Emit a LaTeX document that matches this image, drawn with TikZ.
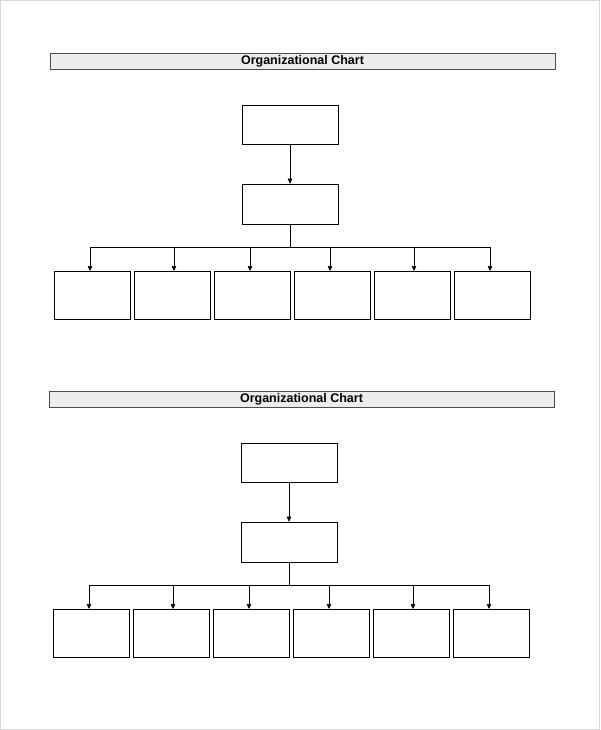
\documentclass[tikz,border=0pt]{standalone}
\usepackage{fontspec}
\setmainfont{Liberation Sans}
\usetikzlibrary{arrows.meta}
\begin{document}
\begin{tikzpicture}[x=1pt,y=-1pt,
  tbar/.style={draw=black!70,line width=0.6pt,fill=black!7,minimum width=505pt,minimum height=16pt,inner sep=0pt,font=\bfseries\fontsize{12.5}{14}\selectfont},
  conn/.style={line width=0.5pt,-{Triangle[length=5pt,width=4.5pt]}},
  plain/.style={line width=0.5pt}]
\path[fill=white,draw=black!15] (0.5,0.5) rectangle (599.5,729.5);
\useasboundingbox (0,0) rectangle (600,730);
\foreach \dy/\dx/\s in {0/0/a,338/-1/b}{
 \begin{scope}[shift={(\dx,\dy)}]
  \node[tbar] (t\s) at (302.5,61) {Organizational Chart};
  \node[draw,line width=0.6pt,minimum width=96pt,minimum height=39pt,inner sep=0pt] (r\s) at (290,124.5) {};
  \node[draw,line width=0.6pt,minimum width=96pt,minimum height=40pt,inner sep=0pt] (m\s) at (290,204) {};
  \draw[conn] (r\s.south) -- (m\s.north);
  \coordinate (j\s) at (290,247);
  \coordinate (l\s) at (90,247);
  \coordinate (e\s) at (490,247);
  \draw[plain] (m\s.south) -- (j\s);
  \draw[plain] (l\s) -- (e\s);
  \foreach \i/\cx/\ax in {1/92/90,2/172/174,3/252/250,4/332/330,5/412/414,6/492/490}{
    \node[draw,line width=0.6pt,minimum width=76pt,minimum height=48pt,inner sep=0pt] (c\s\i) at (\cx,295) {};
    \coordinate (k\s\i) at (\ax,247);
    \draw[conn] (k\s\i) -- (\ax,271);
  }
 \end{scope}}
\end{tikzpicture}
\end{document}
